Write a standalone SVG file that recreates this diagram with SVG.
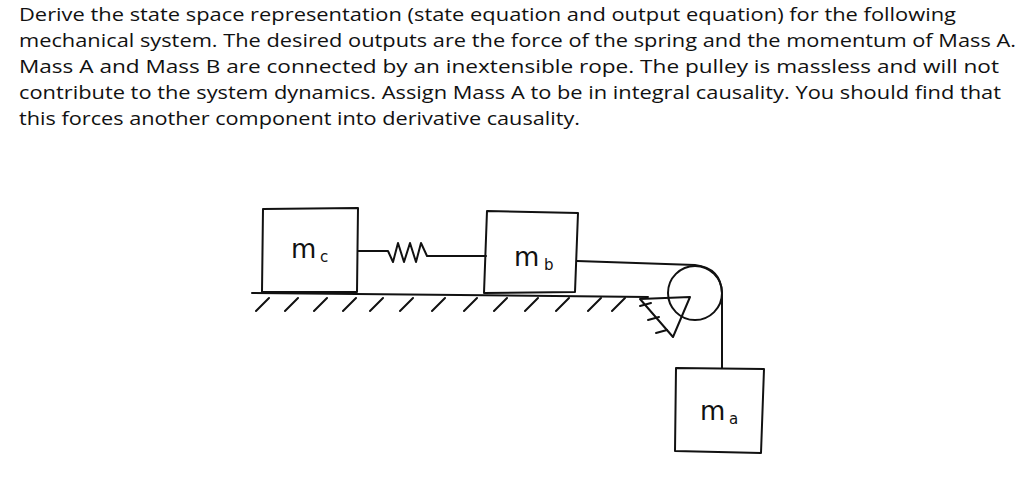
<svg xmlns="http://www.w3.org/2000/svg" width="1024" height="497" viewBox="0 0 1024 497">
<style>
.t{font-family:"Open Sans","Liberation Sans",sans-serif;font-size:18.5px;fill:#111}
.l{fill:none;stroke:#111;stroke-width:2;stroke-linecap:round;stroke-linejoin:round}
.m{font-family:"DejaVu Sans",sans-serif;font-size:26px;fill:#111}
.s{font-family:"DejaVu Sans",sans-serif;font-size:15px;fill:#111}
</style>
<rect width="1024" height="497" fill="#fff"/>
<g id="text">
<text class="t" x="19" y="21" textLength="937" lengthAdjust="spacingAndGlyphs">Derive the state space representation (state equation and output equation) for the following</text>
<text class="t" x="19" y="47" textLength="997" lengthAdjust="spacingAndGlyphs">mechanical system. The desired outputs are the force of the spring and the momentum of Mass A.</text>
<text class="t" x="19" y="73" textLength="980" lengthAdjust="spacingAndGlyphs">Mass A and Mass B are connected by an inextensible rope. The pulley is massless and will not</text>
<text class="t" x="19" y="99" textLength="982" lengthAdjust="spacingAndGlyphs">contribute to the system dynamics. Assign Mass A to be in integral causality. You should find that</text>
<text class="t" x="19" y="125" textLength="561" lengthAdjust="spacingAndGlyphs">this forces another component into derivative causality.</text>
</g>
<g id="ground">
<path class="l" d="M252 293 L648 297"/>
<path class="l" d="M256 311l13-13M285 311l13-13M314 311l13-13M343 311l13-13M370 311l13-13M400 311l13-13M432 311l13-13M464 311l13-13M494 311l13-13M525 311l13-13M556 311l13-13M588 311l13-13M612 311l13-13"/>
</g>
<g id="mc">
<path class="l" d="M263 209 L358 208 L357 292 L262 292 Z"/>
<text class="m" x="291" y="258">m</text><text class="s" x="320" y="262">c</text>
</g>
<g id="spring">
<path class="l" d="M358 251 L388 251 L393 262 L398 243 L404 262 L410 243 L416 262 L421 243 L427 256 L486 256"/>
</g>
<g id="mb">
<path class="l" d="M487 211 L578 213 L575 292 L484 293 Z"/>
<text class="m" x="514" y="266">m</text><text class="s" x="544" y="270">b</text>
</g>
<g id="pulley">
<circle class="l" cx="695" cy="293" r="27"/>
<path class="l" d="M640 299 L690 297 L673 337 Z"/>
<path class="l" d="M640 306l11-3M648 320l11-3M656 333l11-3"/>
</g>
<g id="rope">
<path class="l" d="M577 261 L695 265 Q721 268 722 293 L722 368"/>
</g>
<g id="ma">
<path class="l" d="M676 368 L764 369 L761 453 L675 451 Z"/>
<text class="m" x="700" y="420">m</text><text class="s" x="729" y="424">a</text>
</g>
</svg>
